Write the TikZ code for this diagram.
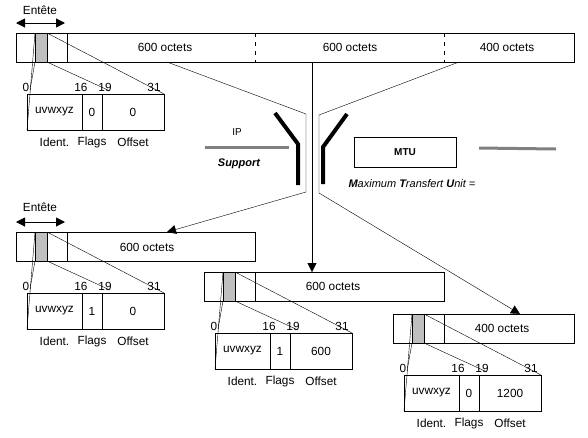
\documentclass[tikz,border=0pt]{standalone}
\usepackage{fontspec}
\setmainfont{Liberation Sans}
\usetikzlibrary{arrows.meta}

\tikzset{
  bar/.style={draw, anchor=north west, minimum height=29pt, inner sep=0pt, outer sep=0pt},
  hdr/.style={draw, fill=black!25, anchor=north west, minimum width=12pt, minimum height=29pt, inner sep=0pt, outer sep=0pt},
  cell/.style={draw, anchor=north west, minimum height=36pt, inner sep=0pt, outer sep=0pt},
  lbl/.style={inner sep=0pt},
  tip/.style={-{Triangle[length=9pt,width=9pt]}},
  span/.style={line width=1pt, {Triangle[length=9pt,width=9pt]}-{Triangle[length=9pt,width=9pt]}},
  wall/.style={line width=4pt},
  rail/.style={line width=3pt, draw=black!50},
}

% header of a fragment: #1 name, #2 x, #3 y, #4 flags, #5 offset
\newcommand{\detail}[5]{
  \node[hdr] (#1h) at (#2+19,#3) {};
  \draw (#2+51,#3) -- (#2+51,#3+29);
  \node[cell, minimum width=55pt] (#1i) at (#2+11,#3+61) {uvwxyz};
  \node[cell, minimum width=20pt] (#1f) at (#1i.north east) {#4};
  \node[cell, minimum width=62pt] (#1o) at (#1f.north east) {#5};
  \node[lbl] at (#2+10,#3+54) {0};
  \node[lbl] at (#2+65,#3+54) {16};
  \node[lbl] at (#2+89,#3+54) {19};
  \node[lbl] at (#2+138,#3+54) {31};
  \node[lbl] at ([yshift=-12pt]#1i.south) {Ident.};
  \node[lbl] at ([yshift=-12pt]#1f.south) {Flags};
  \node[lbl] at ([yshift=-12pt]#1o.south) {Offset};
  \draw (#1h.north west) -- (#1i.south west);
  \draw (#1h.south west) -- (#2+14,#3+57);
  \draw (#1h.north east) -- (#1o.north east);
  \draw (#1h.south east) -- (#2+94,#3+58);
}

\begin{document}
\begin{tikzpicture}[x=1pt, y=-1pt, font=\fontsize{11.8}{13}\selectfont]
\useasboundingbox (0,0) rectangle (588,437);

\node[bar, minimum width=558pt] (top) at (16,33) {};
\draw[dash pattern=on 4pt off 5pt] (255,33) -- (255,62);
\draw[dash pattern=on 4pt off 5pt] (444,33) -- (444,62);
\node (t1) at (165,47) {600 octets};
\node (t2) at (350,47) {600 octets};
\node (t3) at (507,47) {400 octets};
\detail{top}{16}{33}{0}{0}

\node (ent0) at (40,10) {Entête};
\coordinate (e0l) at (16,23);
\coordinate (e0r) at (65,23);
\draw[span] (e0l) -- (e0r);

\node[bar, minimum width=239pt] (f1) at (16,232) {};
\node (f1t) at (147,247) {600 octets};
\detail{f1}{16}{232}{1}{0}

\node (ent1) at (40,207) {Entête};
\coordinate (e1l) at (16,222);
\coordinate (e1r) at (65,222);
\draw[span] (e1l) -- (e1r);

\node[bar, minimum width=240pt] (f2) at (204,272) {};
\node (f2t) at (333,286) {600 octets};
\detail{f2}{204}{272}{1}{600}

\node[bar, minimum width=181pt] (f3) at (393,314) {};
\node (f3t) at (502,328) {400 octets};
\detail{f3}{393}{314}{0}{1200}

\coordinate (l1) at (167,62);
\coordinate (l2) at (306,114);
\coordinate (l3) at (306,192);
\coordinate (l4) at (167,232);
\draw[tip] (l1) -- (l2) -- (l3) -- (l4);

\coordinate (m1) at (312,62);
\coordinate (m2) at (312,272);
\draw[tip] (m1) -- (m2);

\coordinate (r1) at (459,62);
\coordinate (r2) at (319,115);
\coordinate (r3) at (319,193);
\coordinate (r4) at (520,314);
\draw[tip] (r1) -- (r2) -- (r3) -- (r4);

\draw[wall] (275,113) -- (298,144) -- (298,185);
\draw[wall] (347,114) -- (323,147) -- (323,184);
\draw[rail] (205,147) -- (289,147);
\draw[rail] (479,148) -- (556,149);

\node[font=\fontsize{10}{12}\selectfont] (ip) at (237,132) {IP};
\node[font=\fontsize{11}{13}\selectfont\bfseries\itshape] (sup) at (239,164) {Support};
\node[draw, minimum width=102pt, minimum height=30pt, font=\fontsize{10}{12}\selectfont\bfseries] (mtu) at (405,152) {MTU};
\node[anchor=west, font=\fontsize{11}{13}\selectfont\itshape] (mtudef) at (345,184) {\textbf{M}aximum \textbf{T}ransfert \textbf{U}nit =};
\end{tikzpicture}
\end{document}
